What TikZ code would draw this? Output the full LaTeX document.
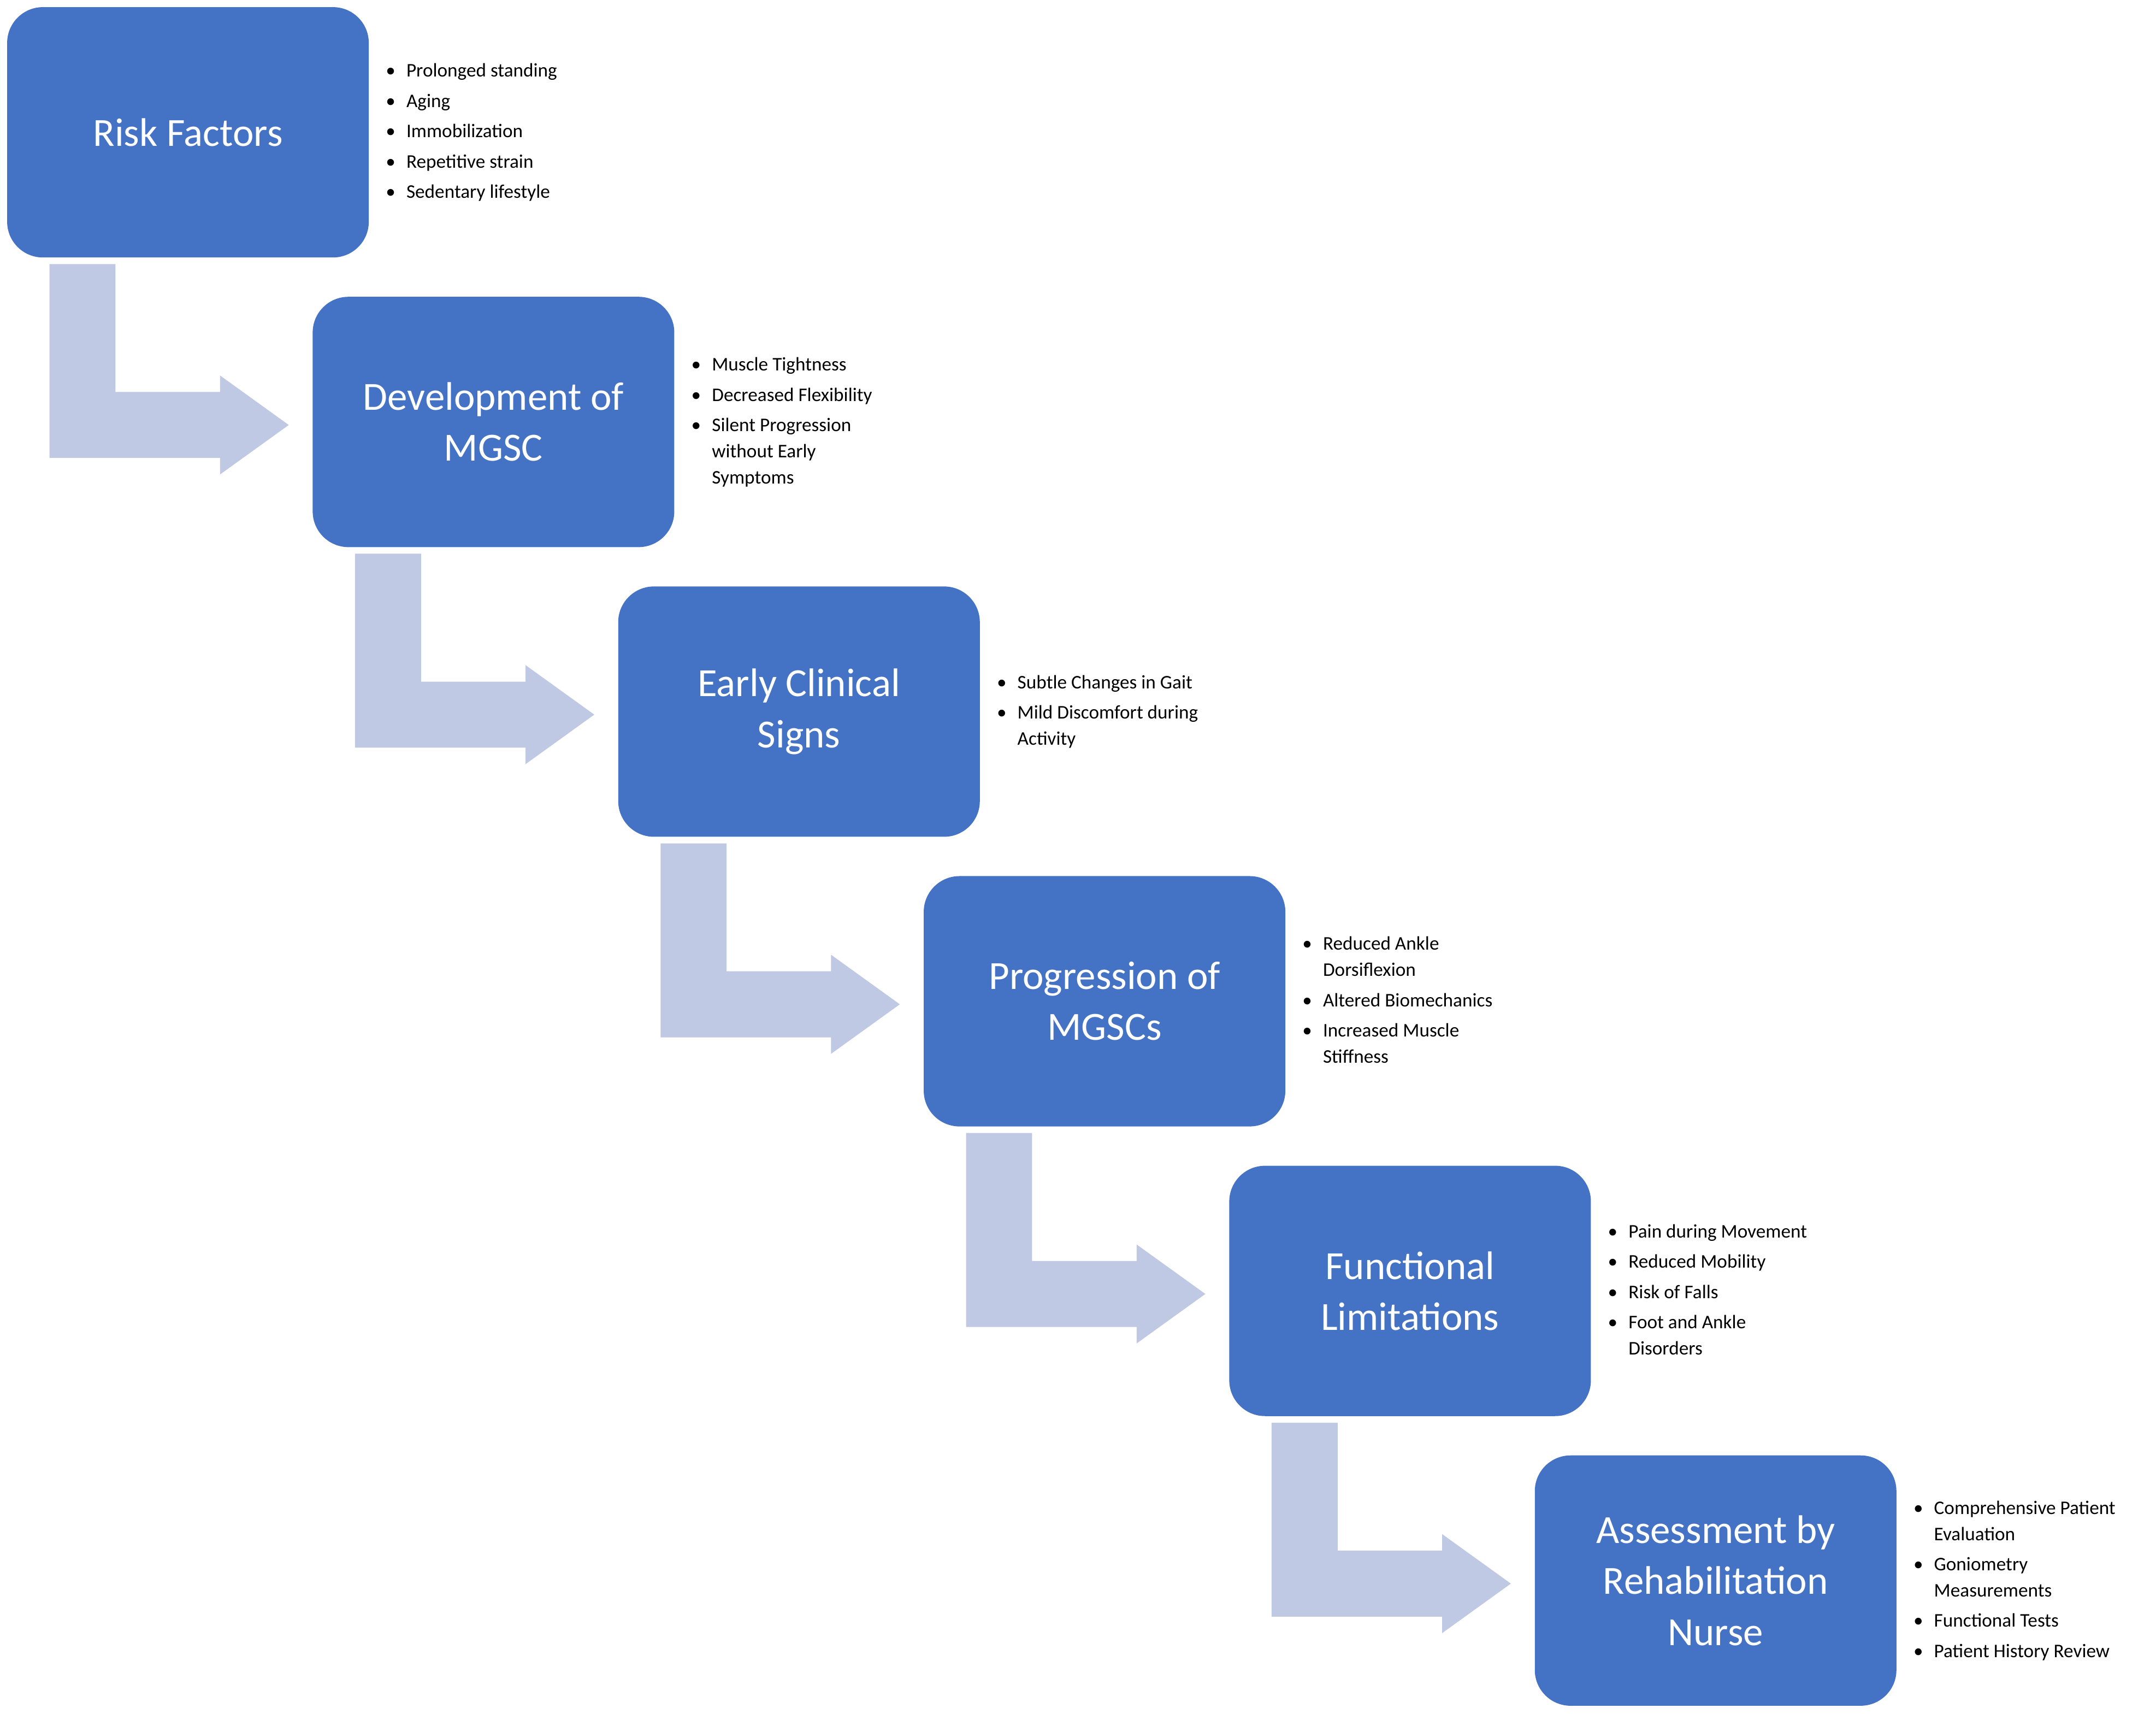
\documentclass[tikz,border=0pt]{standalone}
\usepackage{fontspec}
\setmainfont{Carlito}
\usetikzlibrary{calc}
\definecolor{boxblue}{HTML}{4472C4}
\definecolor{arrowblue}{HTML}{C0C9E4}
\begin{document}
\begin{tikzpicture}[x=1pt,y=1pt,
  box/.style={draw=none,fill=boxblue,rounded corners=26pt,minimum width=263pt,minimum height=182pt,anchor=north west,text=white,align=center,font=\fontsize{29}{37}\selectfont,inner sep=0pt},
  lst/.style={anchor=west,align=left,inner sep=0pt,font=\fontsize{14}{19}\selectfont}]
\useasboundingbox (0,0) rectangle (1568,-1246);
\fill[white] (0,0) rectangle (1568,-1246);
% arrows
\foreach \i in {0,...,4}{
  \pgfmathsetmacro\bx{5+222.2*\i}
  \pgfmathsetmacro\by{5+210.6*\i}
  \fill[arrowblue] (\bx+31,-\by-187) -- (\bx+79,-\by-187) -- (\bx+79,-\by-280) -- (\bx+155,-\by-280) -- (\bx+155,-\by-268) -- (\bx+205,-\by-304) -- (\bx+155,-\by-340) -- (\bx+155,-\by-328) -- (\bx+31,-\by-328) -- cycle;
}
\node[box] (b1) at (5,-5) {Risk Factors};
\node[box] (b2) at (227.2,-215.6) {Development of\\MGSC};
\node[box] (b3) at (449.4,-426.2) {Early Clinical\\Signs};
\node[box] (b4) at (671.6,-636.8) {Progression of\\MGSCs};
\node[box] (b5) at (893.8,-847.4) {Functional\\Limitations};
\node[box] (b6) at (1116,-1058) {Assessment by\\Rehabilitation\\Nurse};
\newcommand{\itm}[1]{\textbullet & #1}
\node[lst] (l1) at ([xshift=12pt]b1.east) {\begin{tabular}{@{}l@{\hspace{8pt}}l@{}}
\itm{Prolonged standing}\\[3pt]\itm{Aging}\\[3pt]\itm{Immobilization}\\[3pt]\itm{Repetitive strain}\\[3pt]\itm{Sedentary lifestyle}\end{tabular}};
\node[lst] (l2) at ([xshift=12pt]b2.east) {\begin{tabular}{@{}l@{\hspace{8pt}}l@{}}
\itm{Muscle Tightness}\\[3pt]\itm{Decreased Flexibility}\\[3pt]\itm{Silent Progression}\\ & without Early\\ & Symptoms\end{tabular}};
\node[lst] (l3) at ([xshift=12pt]b3.east) {\begin{tabular}{@{}l@{\hspace{8pt}}l@{}}
\itm{Subtle Changes in Gait}\\[3pt]\itm{Mild Discomfort during}\\ & Activity\end{tabular}};
\node[lst] (l4) at ([xshift=12pt]b4.east) {\begin{tabular}{@{}l@{\hspace{8pt}}l@{}}
\itm{Reduced Ankle}\\ & Dorsiflexion\\[3pt]\itm{Altered Biomechanics}\\[3pt]\itm{Increased Muscle}\\ & Stiffness\end{tabular}};
\node[lst] (l5) at ([xshift=12pt]b5.east) {\begin{tabular}{@{}l@{\hspace{8pt}}l@{}}
\itm{Pain during Movement}\\[3pt]\itm{Reduced Mobility}\\[3pt]\itm{Risk of Falls}\\[3pt]\itm{Foot and Ankle}\\ & Disorders\end{tabular}};
\node[lst] (l6) at ([xshift=12pt]b6.east) {\begin{tabular}{@{}l@{\hspace{8pt}}l@{}}
\itm{Comprehensive Patient}\\ & Evaluation\\[3pt]\itm{Goniometry}\\ & Measurements\\[3pt]\itm{Functional Tests}\\[3pt]\itm{Patient History Review}\end{tabular}};
\end{tikzpicture}
\end{document}
